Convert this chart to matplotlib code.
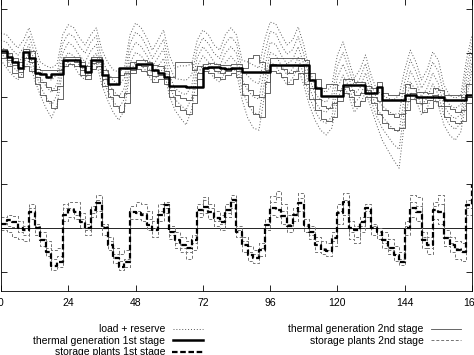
import numpy as np
import matplotlib
matplotlib.use('Agg')
import matplotlib.pyplot as plt

plt.rcParams['font.family'] = ['Liberation Sans', 'DejaVu Sans']

# time axis, 2 hour steps over one week
hours = np.arange(0, 169, 2)
xtick_hours = [0, 24, 48, 72, 96, 120, 144, 168]

# load + reserve scenarios (from upper to lower)
load_hi = [4.46, 4.42, 4.26, 4.12, 4.30, 4.58, 4.19, 3.80, 3.71, 3.66, 3.75, 4.42,
           4.65, 4.58, 4.35, 4.19, 4.42, 4.58, 4.07, 3.80, 3.62, 3.57, 3.66, 4.42,
           4.69, 4.58, 4.35, 4.07, 4.30, 4.53, 3.96, 3.66, 3.71, 3.71, 3.75, 4.30,
           4.53, 4.42, 4.19, 4.07, 4.42, 4.58, 4.42, 3.84, 3.80, 3.73, 3.66, 4.30,
           4.71, 4.67, 4.42, 4.19, 4.30, 4.60, 4.19, 3.62, 3.27, 3.16, 3.11, 3.27,
           3.96, 4.26, 3.84, 3.43, 3.62, 3.96, 3.50, 3.16, 3.04, 2.97, 2.93, 3.04,
           3.62, 4.07, 3.80, 3.39, 3.62, 4.03, 3.84, 3.27, 3.04, 2.97, 3.04, 3.84,
           4.42]
load_uppermid = [4.30, 4.25, 4.08, 3.95, 4.12, 4.40, 4.00, 3.62, 3.48, 3.38, 3.52, 4.22,
                 4.45, 4.38, 4.15, 4.00, 4.25, 4.40, 3.85, 3.58, 3.38, 3.28, 3.42, 4.22,
                 4.48, 4.38, 4.15, 3.88, 4.10, 4.32, 3.72, 3.42, 3.40, 3.38, 3.50, 4.10,
                 4.35, 4.22, 4.00, 3.88, 4.22, 4.38, 4.22, 3.62, 3.48, 3.36, 3.30, 3.98,
                 4.50, 4.45, 4.18, 3.98, 4.08, 4.38, 3.98, 3.42, 3.08, 2.93, 2.88, 3.05,
                 3.70, 4.02, 3.65, 3.25, 3.42, 3.76, 3.30, 2.96, 2.80, 2.68, 2.60, 2.62,
                 3.35, 3.85, 3.58, 3.20, 3.42, 3.80, 3.58, 3.05, 2.82, 2.74, 2.82, 3.62,
                 4.22]
load_mid = [4.15, 4.05, 3.90, 3.75, 3.95, 4.20, 3.80, 3.45, 3.25, 3.10, 3.30, 4.00,
            4.25, 4.15, 3.95, 3.80, 4.05, 4.20, 3.65, 3.35, 3.15, 3.00, 3.20, 4.00,
            4.25, 4.15, 3.95, 3.70, 3.90, 4.10, 3.50, 3.20, 3.10, 3.05, 3.25, 3.90,
            4.15, 4.00, 3.80, 3.70, 4.00, 4.15, 4.00, 3.40, 3.15, 3.00, 2.95, 3.65,
            4.25, 4.20, 3.95, 3.75, 3.85, 4.15, 3.75, 3.20, 2.90, 2.70, 2.65, 2.80,
            3.45, 3.75, 3.45, 3.05, 3.20, 3.55, 3.10, 2.75, 2.55, 2.40, 2.25, 2.20,
            3.05, 3.60, 3.35, 3.00, 3.20, 3.55, 3.30, 2.80, 2.60, 2.50, 2.60, 3.40,
            4.00]
load_lowermid = [4.00, 3.85, 3.70, 3.58, 3.76, 4.02, 3.60, 3.25, 3.00, 2.80, 3.05, 3.80,
                 4.02, 3.93, 3.72, 3.60, 3.86, 4.00, 3.46, 3.14, 2.90, 2.74, 2.95, 3.78,
                 4.02, 3.94, 3.76, 3.52, 3.70, 3.88, 3.28, 2.95, 2.82, 2.70, 2.98, 3.70,
                 3.94, 3.80, 3.62, 3.52, 3.78, 3.93, 3.78, 3.16, 2.84, 2.64, 2.60, 3.35,
                 4.02, 3.95, 3.72, 3.50, 3.64, 3.90, 3.50, 3.00, 2.68, 2.46, 2.40, 2.55,
                 3.20, 3.50, 3.25, 2.85, 3.00, 3.33, 2.92, 2.55, 2.28, 2.10, 1.92, 1.80,
                 2.76, 3.35, 3.14, 2.80, 2.98, 3.30, 3.05, 2.58, 2.36, 2.26, 2.40, 3.16,
                 3.80]
load_lo = [3.84, 3.66, 3.50, 3.39, 3.57, 3.84, 3.39, 3.04, 2.75, 2.52, 2.81, 3.62,
           3.80, 3.71, 3.50, 3.39, 3.66, 3.80, 3.27, 2.93, 2.65, 2.47, 2.70, 3.57,
           3.80, 3.73, 3.57, 3.34, 3.50, 3.66, 3.04, 2.70, 2.52, 2.36, 2.70, 3.50,
           3.73, 3.62, 3.43, 3.34, 3.57, 3.71, 3.57, 2.93, 2.52, 2.29, 2.24, 3.04,
           3.80, 3.71, 3.50, 3.27, 3.43, 3.66, 3.27, 2.81, 2.47, 2.24, 2.13, 2.29,
           2.93, 3.27, 3.04, 2.65, 2.81, 3.11, 2.75, 2.36, 2.01, 1.78, 1.56, 1.37,
           2.47, 3.11, 2.93, 2.59, 2.75, 3.04, 2.81, 2.36, 2.13, 2.01, 2.20, 2.93,
           3.62]

thermal_1st = [4.05, 3.91, 3.80, 3.66, 4.03, 3.90, 3.55, 3.52, 3.46, 3.52, 3.52, 3.84,
               3.84, 3.84, 3.70, 3.57, 3.84, 3.84, 3.50, 3.30, 3.30, 3.66, 3.66, 3.66,
               3.75, 3.75, 3.75, 3.62, 3.55, 3.45, 3.25, 3.25, 3.25, 3.23, 3.23, 3.23,
               3.66, 3.68, 3.68, 3.66, 3.64, 3.66, 3.66, 3.57, 3.57, 3.57, 3.57, 3.57,
               3.74, 3.74, 3.74, 3.72, 3.72, 3.72, 3.72, 3.39, 3.20, 3.02, 3.02, 3.02,
               3.02, 3.27, 3.27, 3.27, 3.27, 3.09, 3.09, 3.23, 2.93, 2.93, 2.93, 2.93,
               3.04, 3.04, 3.00, 3.00, 3.00, 3.00, 3.00, 2.93, 2.93, 2.93, 2.93, 3.04,
               3.04]
thermal_2nd_hi = [4.10, 4.00, 3.90, 3.80, 4.10, 4.05, 3.65, 3.62, 3.62, 3.62, 3.62, 3.92,
                  3.92, 3.92, 3.80, 3.70, 3.92, 3.92, 3.62, 3.45, 3.45, 3.50, 3.55, 3.80,
                  3.85, 3.85, 3.80, 3.72, 3.70, 3.60, 3.45, 3.80, 3.80, 3.80, 3.62, 3.70,
                  3.75, 3.78, 3.75, 3.72, 3.74, 3.76, 3.76, 3.66, 3.90, 3.95, 3.80, 3.62,
                  3.90, 3.90, 3.90, 3.88, 3.88, 3.88, 3.85, 3.55, 3.40, 3.20, 3.30, 3.30,
                  3.15, 3.40, 3.40, 3.35, 3.35, 3.25, 3.20, 3.35, 3.10, 3.05, 3.05, 3.08,
                  3.30, 3.20, 3.12, 3.12, 3.10, 3.20, 3.15, 3.05, 3.05, 3.05, 3.00, 3.30,
                  3.35]
thermal_2nd_mid = [4.00, 3.85, 3.72, 3.58, 3.88, 3.80, 3.45, 3.35, 3.22, 3.15, 3.25, 3.82,
                   3.84, 3.80, 3.62, 3.50, 3.78, 3.80, 3.42, 3.18, 3.05, 3.00, 3.10, 3.62,
                   3.72, 3.70, 3.62, 3.48, 3.50, 3.40, 3.15, 3.05, 2.98, 2.92, 3.05, 3.55,
                   3.68, 3.66, 3.60, 3.55, 3.60, 3.64, 3.60, 3.30, 3.15, 3.05, 3.00, 3.35,
                   3.76, 3.72, 3.64, 3.55, 3.60, 3.70, 3.55, 3.20, 2.95, 2.80, 2.75, 2.85,
                   3.02, 3.22, 3.15, 3.05, 3.10, 3.15, 3.00, 2.90, 2.70, 2.62, 2.55, 2.60,
                   2.90, 3.08, 3.00, 2.85, 2.92, 3.05, 2.98, 2.80, 2.72, 2.65, 2.70, 3.05,
                   3.15]
thermal_2nd_lo = [3.90, 3.70, 3.55, 3.45, 3.70, 3.60, 3.30, 3.05, 2.90, 2.75, 2.95, 3.70,
                  3.76, 3.70, 3.50, 3.40, 3.65, 3.70, 3.25, 3.00, 2.80, 2.65, 2.85, 3.55,
                  3.65, 3.60, 3.50, 3.35, 3.40, 3.30, 3.00, 2.80, 2.70, 2.60, 2.85, 3.40,
                  3.60, 3.55, 3.45, 3.40, 3.50, 3.55, 3.45, 3.05, 2.80, 2.60, 2.55, 3.10,
                  3.60, 3.55, 3.45, 3.30, 3.40, 3.55, 3.30, 2.95, 2.70, 2.50, 2.45, 2.55,
                  2.90, 3.10, 3.00, 2.80, 2.90, 3.00, 2.85, 2.60, 2.40, 2.30, 2.25, 2.30,
                  2.70, 2.95, 2.85, 2.65, 2.75, 2.90, 2.80, 2.55, 2.45, 2.40, 2.45, 2.85,
                  3.00]

storage_1st = [0.09, 0.18, 0.14, 0.00, -0.05, 0.37, 0.00, -0.27, -0.55, -0.87, -0.78, 0.30,
               0.41, 0.37, 0.14, 0.00, 0.41, 0.57, 0.00, -0.39, -0.69, -0.89, -0.78, 0.37,
               0.34, 0.30, 0.07, -0.05, 0.30, 0.53, -0.09, -0.27, -0.39, -0.46, -0.27, 0.41,
               0.48, 0.37, 0.23, 0.14, 0.41, 0.64, -0.09, -0.39, -0.62, -0.69, -0.50, 0.07,
               0.46, 0.41, 0.27, 0.05, 0.30, 0.57, 0.07, -0.09, -0.39, -0.50, -0.53, -0.23,
               0.34, 0.59, 0.00, -0.05, 0.14, 0.46, 0.00, -0.09, -0.27, -0.46, -0.62, -0.78,
               0.00, 0.46, 0.37, -0.27, -0.39, 0.41, 0.37, -0.23, -0.39, -0.50, -0.55, 0.53,
               0.98]
storage_2nd_hi = [0.25, 0.30, 0.28, 0.15, 0.05, 0.45, 0.10, -0.10, -0.30, -0.50, -0.45, 0.45,
                  0.60, 0.60, 0.35, 0.10, 0.50, 0.65, 0.10, -0.20, -0.45, -0.60, -0.50, 0.50,
                  0.60, 0.55, 0.40, 0.15, 0.40, 0.60, 0.05, -0.10, -0.20, -0.30, -0.15, 0.55,
                  0.65, 0.55, 0.40, 0.30, 0.55, 0.75, 0.05, -0.20, -0.40, -0.50, -0.35, 0.20,
                  0.73, 0.70, 0.55, 0.30, 0.45, 0.68, 0.20, 0.05, -0.20, -0.30, -0.35, -0.10,
                  0.55, 0.80, 0.15, 0.05, 0.25, 0.55, 0.10, 0.00, -0.10, -0.25, -0.40, -0.55,
                  0.15, 0.75, 0.70, -0.10, -0.20, 0.60, 0.75, -0.05, -0.20, -0.30, -0.35, 0.65,
                  1.00]
storage_2nd_mid = [0.12, 0.05, 0.02, -0.08, -0.15, 0.55, 0.05, -0.25, -0.45, -0.70, -0.65, 0.55,
                   0.45, 0.30, 0.20, -0.05, 0.35, 0.75, 0.05, -0.30, -0.60, -0.75, -0.70, 0.40,
                   0.40, 0.35, 0.20, 0.00, 0.55, 0.45, -0.15, -0.35, -0.45, -0.55, -0.35, 0.35,
                   0.70, 0.45, 0.15, 0.10, 0.35, 0.60, -0.05, -0.30, -0.55, -0.60, -0.45, 0.10,
                   0.60, 0.85, 0.40, 0.10, 0.35, 0.80, 0.05, -0.15, -0.30, -0.45, -0.50, -0.30,
                   0.40, 0.65, -0.10, -0.20, 0.05, 0.40, 0.05, -0.15, -0.35, -0.50, -0.60, -0.70,
                   0.05, 0.60, 0.50, -0.20, -0.45, 0.50, 0.55, -0.20, -0.35, -0.45, -0.55, 0.45,
                   0.90]
storage_2nd_lo = [-0.05, -0.10, -0.20, -0.25, -0.30, 0.20, -0.15, -0.40, -0.65, -0.95, -0.90, 0.15,
                  0.25, 0.20, 0.00, -0.15, 0.25, 0.40, -0.15, -0.50, -0.80, -0.95, -0.90, 0.20,
                  0.20, 0.15, -0.05, -0.20, 0.15, 0.35, -0.25, -0.45, -0.55, -0.70, -0.50, 0.25,
                  0.35, 0.20, 0.05, -0.05, 0.25, 0.45, -0.20, -0.55, -0.75, -0.80, -0.65, -0.05,
                  0.30, 0.25, 0.10, -0.10, 0.15, 0.40, -0.10, -0.25, -0.55, -0.60, -0.65, -0.40,
                  0.10, 0.30, -0.25, -0.35, -0.10, 0.25, -0.15, -0.25, -0.45, -0.60, -0.75, -0.85,
                  -0.15, 0.25, 0.15, -0.45, -0.60, 0.20, 0.10, -0.40, -0.55, -0.70, -0.75, 0.30,
                  0.80]

fig = plt.figure(figsize=(4.74, 3.55), dpi=100)
ax = fig.add_axes([1/474, 1 - 291/355, 471/474, 292/355])

dotted = (0, (1, 2))
for i, ld in enumerate([load_hi, load_uppermid, load_mid, load_lowermid, load_lo]):
    ax.plot(hours, ld, color='0.35', lw=0.7, ls=dotted,
            label='load + reserve' if i == 0 else None)

for i, th in enumerate([thermal_2nd_hi, thermal_2nd_mid, thermal_2nd_lo]):
    ax.step(hours, th, where='post', color='0.3', lw=0.6,
            label='thermal generation 2nd stage' if i == 0 else None)
ax.step(hours, thermal_1st, where='post', color='black', lw=1.8,
        label='thermal generation 1st stage')

ax.axhline(0, color='black', lw=0.6)
for i, st in enumerate([storage_2nd_hi, storage_2nd_mid, storage_2nd_lo]):
    ax.step(hours, st, where='post', color='0.45', lw=0.7, ls=(0, (3, 2)),
            label='storage plants 2nd stage' if i == 0 else None)
ax.step(hours, storage_1st, where='post', color='black', lw=1.6, ls=(0, (2.5, 1.2)),
        label='storage plants 1st stage')

ax.set_xlim(0, 168)
ax.set_ylim(-1.44, 5.24)
ax.set_xticks(xtick_hours)
ax.set_yticks(range(-1, 6))
ax.tick_params(direction='in', top=True, right=True, length=4, width=0.6,
               labelleft=False, labelsize=7.5, pad=5)
for s in ax.spines.values():
    s.set_linewidth(0.6)

h, l = ax.get_legend_handles_labels()
order = ['load + reserve', 'thermal generation 1st stage', 'storage plants 1st stage',
         'thermal generation 2nd stage', 'storage plants 2nd stage']
hs = [h[l.index(o)] for o in order]
ax.legend(hs, order, ncol=2, markerfirst=False, frameon=False, fontsize=7.5,
          loc='upper left', bbox_to_anchor=(28/474, 1 - 319/355), bbox_transform=fig.transFigure,
          borderpad=0, handlelength=2.9, handletextpad=0.7, columnspacing=8.2,
          labelspacing=0.15)

fig.savefig('out.png', dpi=100)
